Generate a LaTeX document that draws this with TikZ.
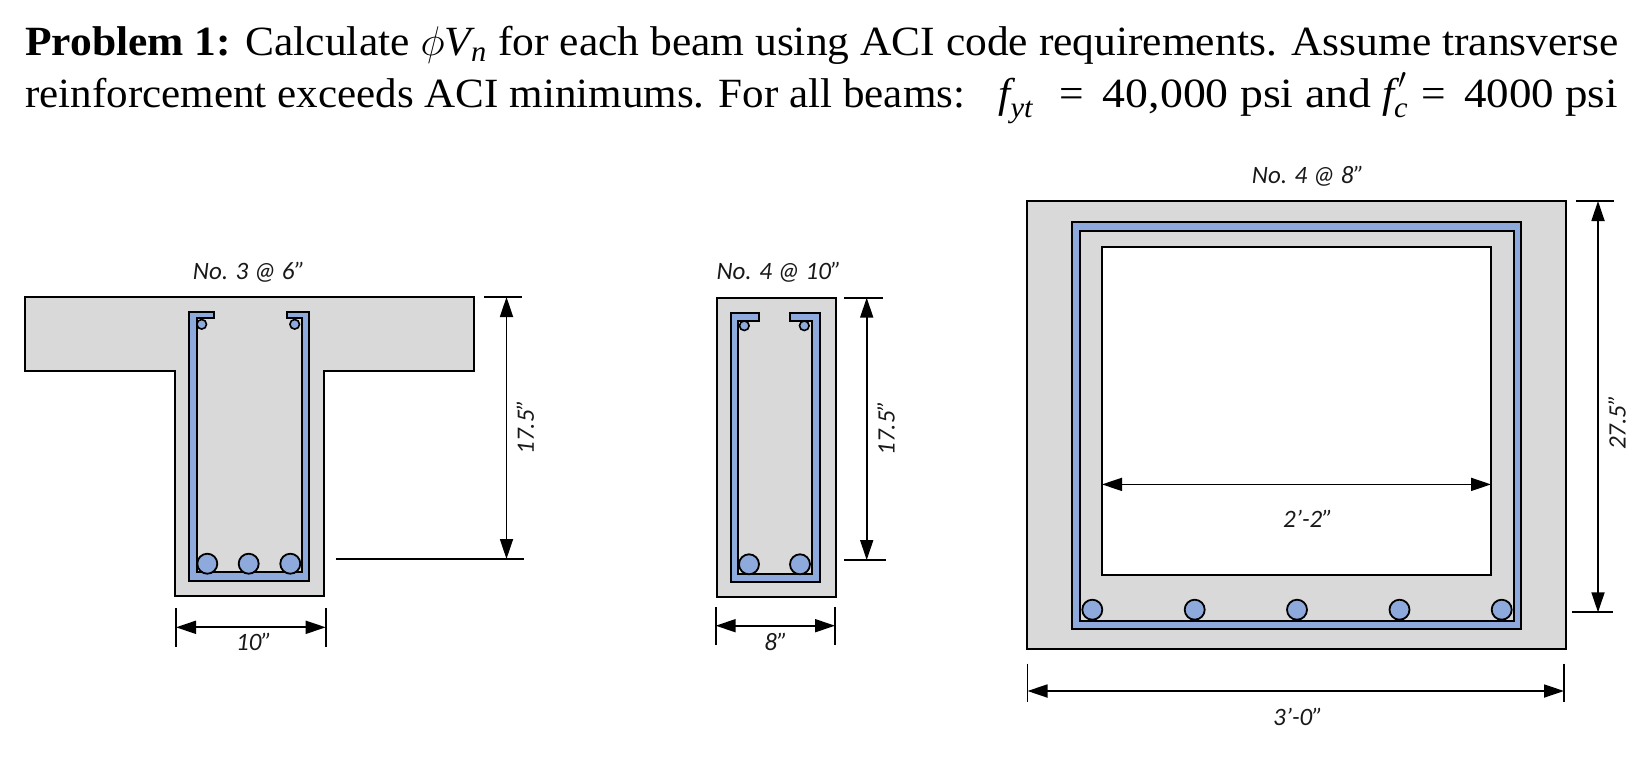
\documentclass[tikz,border=0pt]{standalone}
\usepackage{amsmath, amssymb}
\usepackage{fontspec}
\setmainfont{Liberation Serif}[FakeStretch=1.045]
\newfontfamily\labelfont{Carlito}
\newfontfamily\narrowfont{Liberation Serif}[FakeStretch=1.035]
\newfontfamily\widefont{Liberation Serif}[FakeStretch=1.10]
\newfontfamily\midfont{Liberation Serif}[FakeStretch=1.08]
\usetikzlibrary{arrows.meta}
\definecolor{concrete}{HTML}{D9D9D9}
\definecolor{rebar}{HTML}{8EA9DB}
\tikzstyle{every node}+=[inner sep=0pt]
\tikzstyle{title} = [anchor=base west, font=\fontsize{20.8}{25}\selectfont]
\tikzstyle{value} = [font=\labelfont\itshape\fontsize{12.5}{15}\selectfont, text=black!90]
\tikzstyle{section} = [draw=black, line width=0.9pt, fill=concrete]
\tikzstyle{stirrup} = [draw=black, line width=0.9pt, fill=rebar, even odd rule]
\tikzstyle{bar} = [circle, draw=black, line width=0.9pt, fill=rebar, minimum size=10pt]
\tikzstyle{smallbar} = [circle, draw=black, line width=0.8pt, fill=rebar, minimum size=4.8pt]
\tikzstyle{line} = [draw, line width=0.9pt, {Triangle[length=10pt,width=6.5pt]}-{Triangle[length=10pt,width=6.5pt]}]
\tikzstyle{witness} = [draw, line width=0.9pt]

\begin{document}
\begin{tikzpicture}[x=0.5pt, y=-0.5pt]
            \useasboundingbox (0,0) rectangle (1644,772);
            % Place heading
            \node [title] (head1) at (25,55) {\textbf{Problem 1:} Calculate $\phi\textit{V}_{\textit{n}}$ for each beam using ACI code requirements. Assume transverse};
            \node [title] (head2) at (25,107) {{\narrowfont reinforcement exceeds ACI minimums. For all beams:}\hspace{0.8em}$\textit{f}_{\textit{yt}}$\hspace{0.63em}=\hspace{0.45em}{\widefont 40,000 psi and} $\textit{f}_{\textit{c}}^{\hspace{0.1em}\prime}$\hspace{0.3em}=\hspace{0.45em}{\midfont 4000 psi}};
            % T beam
            \draw [section] (25,297) -- (474,297) -- (474,371) -- (324,371) -- (324,596) -- (175,596) -- (175,371) -- (25,371) -- cycle;
            \draw [stirrup] (213.7,311.7) -- (189.3,311.7) -- (189.3,580.7) -- (309.3,580.7) -- (309.3,311.7) -- (286.7,311.7) -- (286.7,318.3) -- (301.7,318.3) -- (301.7,572) -- (196.7,572) -- (196.7,318.3) -- (213.7,318.3) -- cycle;
            \node [smallbar] (t1) at (201.7,324.3) {};
            \node [smallbar] (t2) at (294.7,324.3) {};
            \node [bar] (t3) at (207.3,563.7) {};
            \node [bar] (t4) at (248.7,563.7) {};
            \node [bar] (t5) at (290.3,563.7) {};
            \node [value] (s1) at (249,272) {No. 3 @ 6”};
            \node [value] (w1) at (254,642) {10”};
            \node [value, rotate=90] (d1) at (525.4,427) {17.5”};
            % Rectangular beam
            \draw [section] (717,297.7) rectangle (836.3,596.7);
            \draw [stirrup] (759,312.7) -- (730.7,312.7) -- (730.7,581.7) -- (820.3,581.7) -- (820.3,312.7) -- (790.3,312.7) -- (790.3,320.7) -- (811.7,320.7) -- (811.7,573.7) -- (737.7,573.7) -- (737.7,320.7) -- (759,320.7) -- cycle;
            \node [smallbar] (r1) at (744.3,325.7) {};
            \node [smallbar] (r2) at (804.3,325.7) {};
            \node [bar] (r3) at (749,564.3) {};
            \node [bar] (r4) at (800,564.3) {};
            \node [value] (s2) at (779,272) {No. 4 @ 10”};
            \node [value] (w2) at (776,642) {8”};
            \node [value, rotate=90] (d2) at (886,428) {17.5”};
            % Hollow beam
            \draw [section] (1027.3,201) rectangle (1566,649.3);
            \draw [stirrup] (1072.3,222) rectangle (1521,629.3) (1080,230.7) rectangle (1514,620.7);
            \draw [section, fill=white] (1102,246.7) rectangle (1491,575);
            \node [bar] (h1) at (1092.3,609.7) {};
            \node [bar] (h2) at (1194.7,609.7) {};
            \node [bar] (h3) at (1297,609.7) {};
            \node [bar] (h4) at (1399.5,609.7) {};
            \node [bar] (h5) at (1501.7,609.7) {};
            \node [value] (s3) at (1308,176) {No. 4 @ 8”};
            \node [value] (w3) at (1308,519) {2’-2”};
            \node [value] (w4) at (1298,717) {3’-0”};
            \node [value, rotate=90] (d3) at (1617,422.5) {27.5”};
            % Place dimension ends
            \coordinate (a1) at (176,627.3);
            \coordinate (a2) at (325.7,627.3);
            \coordinate (a3) at (506.5,297);
            \coordinate (a4) at (506.5,559);
            \coordinate (b1) at (715.7,625.7);
            \coordinate (b2) at (835,625.7);
            \coordinate (b3) at (866.7,297.7);
            \coordinate (b4) at (866.7,560);
            \coordinate (c1) at (1102,484.4);
            \coordinate (c2) at (1491,484.4);
            \coordinate (c3) at (1027.5,691);
            \coordinate (c4) at (1564,691);
            \coordinate (c5) at (1598,201);
            \coordinate (c6) at (1598,612.3);
            % Draw edges
            \path [line] (a1) -- (a2);
            \path [line] (a3) -- (a4);
            \path [line] (b1) -- (b2);
            \path [line] (b3) -- (b4);
            \path [line] (c1) -- (c2);
            \path [line] (c3) -- (c4);
            \path [line] (c5) -- (c6);
            % Draw witness lines
            \path [witness] (176,608) -- (176,646.7);
            \path [witness] (325.7,608) -- (325.7,646.7);
            \path [witness] (484,297) -- (522,297);
            \path [witness] (335.5,559) -- (524,559);
            \path [witness] (715.7,607.3) -- (715.7,645.3);
            \path [witness] (835,607.3) -- (835,645.3);
            \path [witness] (844,297.7) -- (883,297.7);
            \path [witness] (844,560) -- (886,560);
            \path [witness] (1027.5,663.7) -- (1027.5,702);
            \path [witness] (1564,663.7) -- (1564,702);
            \path [witness] (1576,201) -- (1613.6,201);
            \path [witness] (1572,612.3) -- (1613,612.3);
          \end{tikzpicture}
\end{document}
